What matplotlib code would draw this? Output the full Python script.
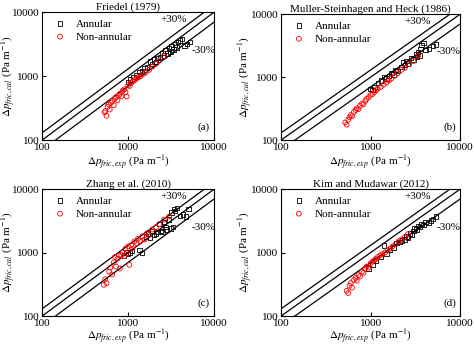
import matplotlib
matplotlib.use('Agg')
import matplotlib.pyplot as plt
import numpy as np

plt.rcParams['font.family'] = ['Liberation Serif', 'DejaVu Serif']
plt.rcParams['mathtext.fontset'] = 'stix'
plt.rcParams['font.size'] = 8

# Panel titles and tags
titles = ['Friedel (1979)', 'Muller-Steinhagen and Heck (1986)',
          'Zhang et al. (2010)', 'Kim and Mudawar (2012)']
tags = ['(a)', '(b)', '(c)', '(d)']

# (a) Friedel
x_a_non = [530, 540, 560, 575, 590, 610, 630, 650, 680, 700, 720, 750, 780, 800, 830, 860, 900, 930, 960,
           1000, 1040, 1080, 1120, 1180, 1250, 1320, 1400, 1500, 1600, 1750, 1900, 2100, 2300, 2600]
y_a_non = [270, 285, 240, 330, 360, 300, 380, 410, 350, 440, 470, 420, 500, 530, 480, 590, 620, 560, 480,
           720, 700, 780, 820, 860, 920, 960, 1000, 1080, 1150, 1250, 1400, 1550, 1750, 2050]
x_a_ann = [1000, 1050, 1150, 1250, 1350, 1450, 1550, 1650, 1800, 1900, 2000, 2100, 2200, 2350, 2500,
           2600, 2700, 2850, 3000, 3100, 3200, 3350, 3500, 3650, 3800, 4000, 4200, 4500, 4800, 5200]
y_a_ann = [800, 880, 960, 1050, 1150, 1200, 1350, 1400, 1700, 1550, 1850, 1650, 1900, 2000, 2300,
           2100, 2500, 2250, 2700, 2400, 2900, 2600, 3100, 2800, 3400, 3600, 3800, 3000, 3200, 3400]

# (b) Muller-Steinhagen and Heck
x_b_non = [520, 540, 560, 580, 600, 620, 650, 680, 700, 730, 760, 800, 830, 870, 900, 950, 1000, 1050,
           1100, 1150, 1200, 1300, 1400, 1500, 1600, 1700, 1850, 2000, 2200, 2400, 2700, 3000, 3400]
y_b_non = [190, 175, 210, 230, 250, 240, 280, 300, 320, 310, 350, 380, 370, 420, 450, 480, 520, 540,
           580, 620, 650, 700, 760, 820, 880, 950, 1050, 1150, 1300, 1400, 1600, 1800, 2200]
x_b_ann = [1000, 1050, 1100, 1200, 1300, 1400, 1500, 1600, 1700, 1800, 1900, 2000, 2200, 2300, 2400,
           2500, 2600, 2800, 3000, 3200, 3300, 3400, 3500, 3600, 3700, 3900, 4100, 4500, 5000, 5400]
y_b_ann = [650, 620, 700, 800, 880, 1000, 950, 1050, 1150, 1100, 1300, 1250, 1450, 1700, 1550,
           1800, 1650, 2000, 1900, 2300, 2100, 2500, 2200, 2800, 3200, 3500, 2700, 2800, 3100, 3300]

# (c) Zhang et al.
x_c_non = [520, 540, 560, 600, 620, 650, 680, 700, 720, 750, 780, 800, 830, 860, 900, 930, 960, 1000,
           1030, 1080, 1120, 1180, 1250, 1300, 1380, 1450, 1550, 1650, 1750, 1900, 2100, 2300, 2600, 3000]
y_c_non = [310, 380, 330, 500, 580, 450, 700, 850, 600, 800, 900, 560, 920, 1000, 880, 1150, 980, 1250,
           640, 1300, 1150, 1500, 1400, 1650, 1500, 1800, 1600, 2000, 1900, 2300, 2500, 2800, 3300, 3700]
x_c_ann = [900, 950, 1000, 1050, 1100, 1350, 1450, 1600, 1700, 1800, 1900, 2000, 2100, 2200, 2300, 2400,
           2500, 2600, 2700, 2800, 3000, 3100, 3200, 3300, 3400, 3500, 3700, 4000, 4300, 4700, 5000]
y_c_ann = [900, 1000, 950, 1000, 1050, 1100, 980, 1800, 2000, 1700, 2200, 1900, 2000, 2100, 2800, 2200,
           2100, 3000, 2500, 2300, 3300, 2400, 4300, 2500, 4800, 4500, 5000, 3800, 4000, 3700, 4900]

# (d) Kim and Mudawar
x_d_non = [540, 560, 580, 600, 620, 650, 680, 700, 730, 760, 800, 830, 870, 900, 950, 1000, 1050, 1100,
           1150, 1200, 1280, 1350, 1450, 1550, 1650, 1750, 1900, 2050, 2200, 2400, 2600]
y_d_non = [250, 230, 300, 330, 280, 370, 400, 360, 440, 420, 500, 480, 560, 600, 580, 680, 720, 760,
           800, 850, 900, 950, 1000, 1100, 1150, 1250, 1350, 1500, 1600, 1750, 1950]
x_d_ann = [950, 1050, 1150, 1300, 1400, 1500, 1650, 1800, 1950, 2100, 2250, 2400, 2500, 2600, 2750,
           2900, 3000, 3100, 3250, 3400, 3550, 3700, 3900, 4100, 4400, 4700, 5000, 5400]
y_d_ann = [560, 650, 750, 850, 1300, 950, 1100, 1200, 1400, 1450, 1550, 1600, 1800, 1700, 2000,
           1900, 2200, 2400, 2300, 2600, 2500, 2800, 2700, 3000, 2900, 3200, 3400, 3700]

panels = [(x_a_ann, y_a_ann, x_a_non, y_a_non),
          (x_b_ann, y_b_ann, x_b_non, y_b_non),
          (x_c_ann, y_c_ann, x_c_non, y_c_non),
          (x_d_ann, y_d_ann, x_d_non, y_d_non)]

# axes boxes in figure fractions (left, bottom, width, height)
boxes = [(0.089, 0.594, 0.363, 0.371),
         (0.593, 0.594, 0.378, 0.365),
         (0.089, 0.084, 0.363, 0.368),
         (0.593, 0.084, 0.378, 0.368)]
# label anchor positions (axes fraction)
ylab_x = [-0.145, -0.15, -0.145, -0.15]
xlab_y = [-0.10, -0.10, -0.09, -0.09]

fig = plt.figure(figsize=(4.74, 3.45), dpi=100)
line_x = np.array([100, 10000])

for i in range(4):
    xa, ya, xn, yn = panels[i]
    ax = fig.add_axes(boxes[i])
    ax.set_xscale('log')
    ax.set_yscale('log')
    for f in [1.3, 1.0, 0.7]:
        ax.plot(line_x, line_x * f, color='black', linewidth=0.9)
    ax.scatter(xa, ya, marker='s', s=10, facecolors='none', edgecolors='black',
               linewidths=0.6, label='Annular', zorder=3)
    ax.scatter(xn, yn, marker='o', s=12, facecolors='none', edgecolors='red',
               linewidths=0.6, label='Non-annular', zorder=3)
    ax.set_xlim(100, 10000)
    ax.set_ylim(100, 10000)
    ax.set_xticks([100, 1000, 10000])
    ax.set_xticklabels(['100', '1000', '10000'])
    ax.set_yticks([100, 1000, 10000])
    ax.set_yticklabels(['100', '1000', '10000'])
    ax.minorticks_off()
    ax.tick_params(direction='in', length=3, labelsize=8, pad=2)
    ax.set_title(titles[i], fontsize=8, pad=1.5)
    ax.set_xlabel(r'$\Delta p_{fric,exp}$ (Pa m$^{-1}$)', fontsize=8)
    ax.set_ylabel(r'$\Delta p_{fric,cal}$ (Pa m$^{-1}$)', fontsize=8)
    ax.xaxis.set_label_coords(0.5, xlab_y[i])
    ax.yaxis.set_label_coords(ylab_x[i], 0.5)
    ax.text(0.69, 0.94, '+30%', transform=ax.transAxes, fontsize=8, va='center')
    ax.text(0.87, 0.70, '-30%', transform=ax.transAxes, fontsize=8, va='center')
    ax.text(0.94, 0.10, tags[i], transform=ax.transAxes, fontsize=8, ha='center', va='center')
    ax.legend(loc='upper left', frameon=False, fontsize=8, handletextpad=0.4,
              borderaxespad=0.2, labelspacing=0.3, markerscale=1.0)

plt.savefig('out.png', dpi=100)
